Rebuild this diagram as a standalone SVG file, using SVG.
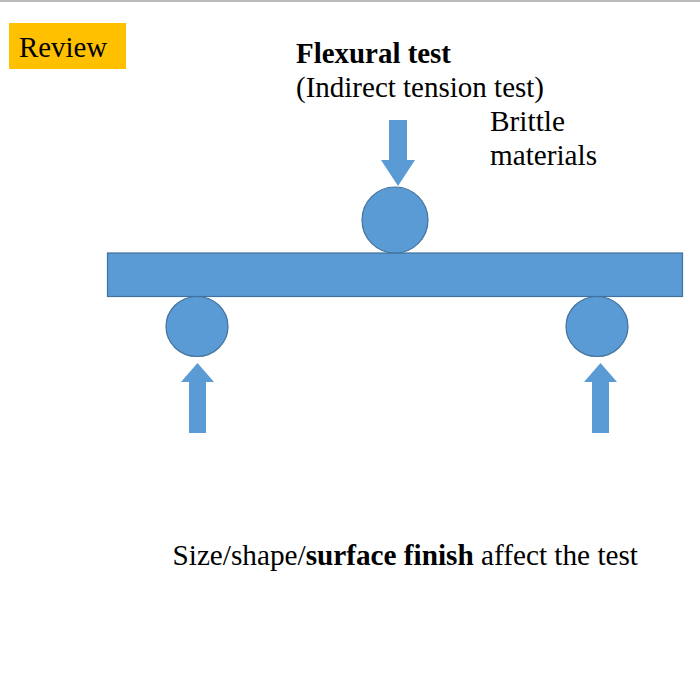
<svg xmlns="http://www.w3.org/2000/svg" width="700" height="700" viewBox="0 0 700 700">
<style>
.shape{fill:#5B9BD5;stroke:#41719C;stroke-width:1.2}
.arrow{fill:#5B9BD5;stroke:none}
.t{font-family:"Liberation Serif","DejaVu Serif",serif;font-size:29px;fill:#000}
.b{font-weight:bold}
</style>
<rect x="0" y="0" width="700" height="700" fill="#fff"/>
<line x1="0" y1="1" x2="700" y2="1" stroke="#bbb" stroke-width="2"/>
<g id="review">
<rect x="9" y="23" width="117" height="46" fill="#FFC000"/>
<text class="t" x="19" y="57" textLength="88" lengthAdjust="spacingAndGlyphs">Review</text>
</g>
<g id="title">
<text class="t b" x="296" y="63" textLength="155" lengthAdjust="spacingAndGlyphs">Flexural test</text>
<text class="t" x="296" y="97" textLength="248" lengthAdjust="spacingAndGlyphs">(Indirect tension test)</text>
</g>
<g id="brittle">
<text class="t" x="490" y="131" textLength="75" lengthAdjust="spacingAndGlyphs">Brittle</text>
<text class="t" x="490" y="165" textLength="107" lengthAdjust="spacingAndGlyphs">materials</text>
</g>
<g id="beam">
<rect class="shape" x="107.5" y="253" width="575" height="43.5"/>
</g>
<g id="top-roller">
<ellipse class="shape" cx="395" cy="220" rx="33" ry="33"/>
</g>
<g id="left-roller">
<ellipse class="shape" cx="197" cy="326.5" rx="31" ry="30"/>
</g>
<g id="right-roller">
<ellipse class="shape" cx="597" cy="326.5" rx="31" ry="30"/>
</g>
<g id="connectors">
<polygon class="arrow" points="389,120 407,120 407,160 415,160 398,186 381,160 389,160"/>
<polygon class="arrow" points="189,433 206,433 206,382 214,382 197.5,363 181,382 189,382"/>
<polygon class="arrow" points="592,433 609,433 609,382 617,382 600.5,363 584,382 592,382"/>
</g>
<g id="footer">
<text class="t" x="172.5" y="565" textLength="465.5" lengthAdjust="spacingAndGlyphs">Size/shape/<tspan class="b">surface finish</tspan> affect the test</text>
</g>
</svg>
